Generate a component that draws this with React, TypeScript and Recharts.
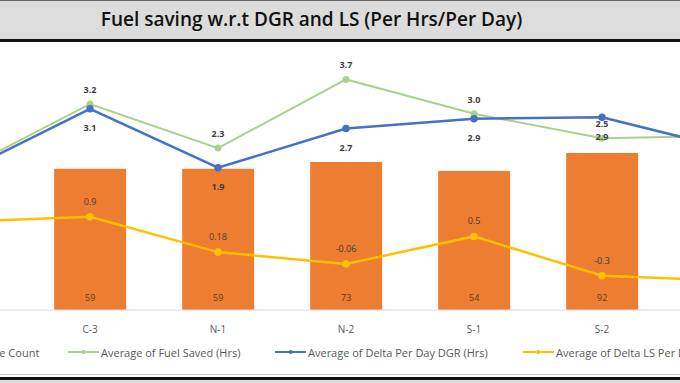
import React from 'react';
import { ComposedChart, Bar, Line, XAxis, YAxis, LabelList, Legend } from 'recharts';

const categories = ['C-2', 'C-3', 'N-1', 'N-2', 'S-1', 'S-2', 'S-3'];
const vehicleCount = [65, 59, 59, 73, 54, 92, 60];
const fuelSaved = [1.85, 3.2, 2.3, 3.7, 3.0, 2.5, 2.55];
const deltaDGR = [1.8, 3.1, 1.9, 2.7, 2.9, 2.93, 2.28];
const deltaLS = [0.8, 0.9, 0.18, -0.06, 0.5, -0.3, -0.4];

const seriesNames = [
  'Vehicle Count',
  'Average of Fuel Saved (Hrs)',
  'Average of Delta Per Day DGR (Hrs)',
  'Average of Delta LS Per Day (Hrs)',
];

const BAR_AXIS = [-240, 310];
const LINE_AXIS = [-1, 4.3];

const data = categories.map((c, i) => ({
  cat: c,
  count: vehicleCount[i],
  countRange: [BAR_AXIS[0], vehicleCount[i]],
  fuel: fuelSaved[i],
  dgr: deltaDGR[i],
  ls: deltaLS[i],
}));

const COLORS = { bar: '#ed7d31', green: '#a9d18e', blue: '#4472c4', yellow: '#ffc000' };
const FONT = '"Open Sans", "Noto Sans", sans-serif';

const CHART_LEFT = -102;
const LEGEND_H = 16;

const legendItems = [
  { name: seriesNames[0], type: 'bar', color: COLORS.bar, x: -42 },
  { name: seriesNames[1], type: 'line', color: COLORS.green, x: 68 },
  { name: seriesNames[2], type: 'line', color: COLORS.blue, x: 275 },
  { name: seriesNames[3], type: 'line', color: COLORS.yellow, x: 523 },
];

const LegendContent = () => (
  <div style={{ position: 'relative', width: 896, height: LEGEND_H }}>
    {legendItems.map((it) => (
      <div
        key={it.name}
        style={{
          position: 'absolute',
          left: it.x - CHART_LEFT,
          top: 0,
          height: LEGEND_H,
          display: 'flex',
          alignItems: 'center',
          whiteSpace: 'nowrap',
        }}
      >
        {it.type === 'bar' ? (
          <span style={{ display: 'inline-block', width: 7, height: 7, background: it.color, marginRight: 4 }} />
        ) : (
          <svg width={31} height={8} style={{ marginRight: 2 }}>
            <line x1={0} y1={4} x2={31} y2={4} stroke={it.color} strokeWidth={2} />
            <circle cx={15.5} cy={4} r={2} fill={it.color} />
          </svg>
        )}
        <span style={{ fontFamily: FONT, fontSize: 11, color: '#595959' }}>{it.name}</span>
      </div>
    ))}
  </div>
);

export default function App() {
  return (
    <div
      style={{
        position: 'fixed',
        left: 0,
        top: 0,
        width: 680,
        height: 383,
        overflow: 'hidden',
        background: '#ffffff',
      }}
    >
      <div style={{ position: 'absolute', left: CHART_LEFT, top: 0 }}>
        <ComposedChart
          width={896}
          height={383}
          data={data}
          margin={{ top: 50, right: 0, bottom: 0, left: 0 }}
          barCategoryGap="22%"
        >
          <XAxis
            dataKey="cat"
            height={73 - LEGEND_H}
            axisLine={{ stroke: '#d9d9d9', strokeWidth: 1 }}
            tickLine={false}
            tick={{ fontFamily: FONT, fontSize: 10, fill: '#595959' }}
            tickMargin={10}
          />
          <YAxis yAxisId="bars" hide domain={BAR_AXIS} allowDataOverflow />
          <YAxis yAxisId="lines" hide domain={LINE_AXIS} allowDataOverflow />
          <Legend
            content={<LegendContent />}
            verticalAlign="bottom"
            wrapperStyle={{ position: 'absolute', left: 0, top: 344, width: 896, height: LEGEND_H }}
          />
          <Bar
            yAxisId="bars"
            dataKey="countRange"
            name={seriesNames[0]}
            fill={COLORS.bar}
            isAnimationActive={false}
          >
            <LabelList
              dataKey="count"
              position="insideBottom"
              offset={9}
              style={{ fontFamily: FONT, fontSize: 9, fill: '#6b3a17' }}
            />
          </Bar>
          <Line
            yAxisId="lines"
            dataKey="fuel"
            name={seriesNames[1]}
            stroke={COLORS.green}
            strokeWidth={2}
            dot={{ r: 2.5, fill: COLORS.green, stroke: COLORS.green }}
            isAnimationActive={false}
          >
            <LabelList
              dataKey="fuel"
              position="top"
              offset={11}
              formatter={(v: number) => v.toFixed(1)}
              style={{ fontFamily: FONT, fontSize: 9, fontWeight: 700, fill: '#404040' }}
            />
          </Line>
          <Line
            yAxisId="lines"
            dataKey="dgr"
            name={seriesNames[2]}
            stroke={COLORS.blue}
            strokeWidth={2.5}
            dot={{ r: 2.5, fill: COLORS.blue, stroke: COLORS.blue }}
            isAnimationActive={false}
          >
            <LabelList
              dataKey="dgr"
              position="bottom"
              offset={16}
              formatter={(v: number) => v.toFixed(1)}
              style={{ fontFamily: FONT, fontSize: 9, fontWeight: 700, fill: '#404040' }}
            />
          </Line>
          <Line
            yAxisId="lines"
            dataKey="ls"
            name={seriesNames[3]}
            stroke={COLORS.yellow}
            strokeWidth={2.5}
            dot={{ r: 2.5, fill: COLORS.yellow, stroke: COLORS.yellow }}
            isAnimationActive={false}
          >
            <LabelList
              dataKey="ls"
              position="top"
              offset={12}
              formatter={(v: number) => String(v)}
              style={{ fontFamily: FONT, fontSize: 9, fill: '#404040' }}
            />
          </Line>
        </ComposedChart>
      </div>

      <div
        style={{
          position: 'absolute',
          left: 0,
          top: 0,
          width: 680,
          height: 38,
          background: '#dcdcdc',
          borderTop: '1px solid #666',
          borderBottom: '3px solid #111',
        }}
      >
        <div
          style={{
            position: 'absolute',
            left: 0,
            width: 623,
            top: 5,
            textAlign: 'center',
            fontFamily: FONT,
            fontSize: 19,
            fontWeight: 600,
            color: '#111',
            whiteSpace: 'nowrap',
          }}
        >
          Fuel saving w.r.t DGR and LS (Per Hrs/Per Day)
        </div>
      </div>

      <div style={{ position: 'absolute', left: 0, top: 374, width: 680, height: 1, background: '#c8c8c8' }} />
      <div style={{ position: 'absolute', left: 0, top: 377, width: 680, height: 3, background: '#111' }} />
      <div style={{ position: 'absolute', left: 0, top: 380, width: 680, height: 3, background: '#dcdcdc' }} />
    </div>
  );
}
